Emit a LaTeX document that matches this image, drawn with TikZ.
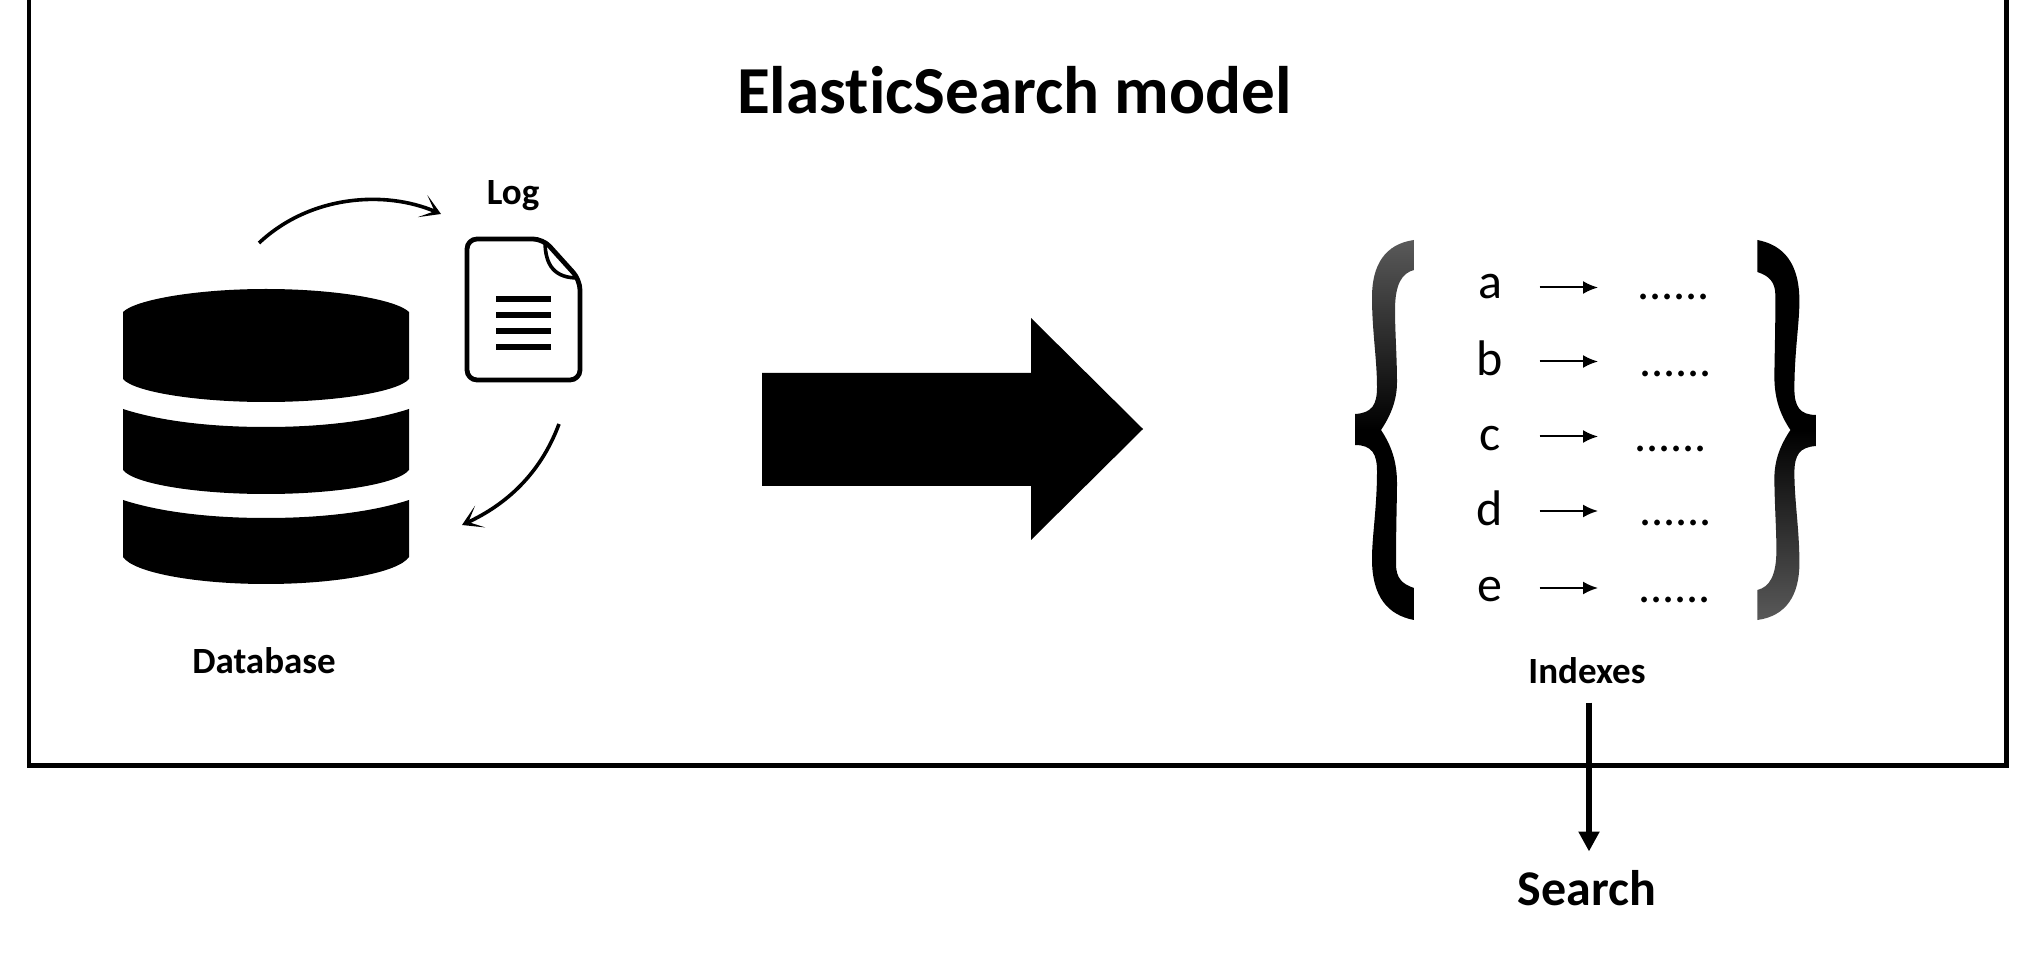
\documentclass[tikz,border=0pt]{standalone}
\usepackage{fontspec}
\setmainfont{Carlito}[Ligatures=NoCommon]
\usetikzlibrary{arrows.meta}

\begin{document}
\begin{tikzpicture}[x=0.5pt,y=-0.5pt,>=latex]
	\tikzstyle{lbl}=[anchor=base,inner sep=0pt,font=\bfseries\fontsize{18.5}{19}\selectfont];
	\tikzstyle{letter}=[anchor=base,inner sep=0pt,font=\fontsize{25}{26}\selectfont];
	\tikzstyle{dots}=[anchor=base west,inner sep=0pt,font=\fontsize{24}{26}\selectfont];
	\tikzstyle{curvearrow}=[->,line width=1.8pt,>={Stealth[length=10pt,width=12pt,inset=6.5pt]}];
	\tikzstyle{smallarrow}=[->,line width=1pt,>={Latex[length=7.5pt,width=6.5pt]}];
	\useasboundingbox (0,0) rectangle (2025,978);
	% frame, open at the top of the page
	\draw[line width=2.2pt] (29,-4) -- (29,765.5) -- (2006.5,765.5) -- (2006.5,-4);
	\node[lbl,font=\bfseries\fontsize{33.6}{34}\selectfont](title) at (1014.5,113.5){ElasticSearch model};
	% database
	\fill (123,312) .. controls (135,300) and (195,289) .. (266,289) .. controls (337,289) and (397,300) .. (409,312)
		-- (409,379) .. controls (398,392) and (335,402) .. (266,402) .. controls (197,402) and (134,392) .. (123,379) -- cycle;
	\fill (123,409) .. controls (160,421) and (210,427) .. (266,427) .. controls (322,427) and (372,421) .. (409,409)
		-- (409,470) .. controls (398,484) and (335,494) .. (266,494) .. controls (197,494) and (134,484) .. (123,470) -- cycle;
	\fill (123,500) .. controls (160,512) and (210,518) .. (266,518) .. controls (322,518) and (372,512) .. (409,500)
		-- (409,557) .. controls (398,573) and (335,584) .. (266,584) .. controls (197,584) and (134,573) .. (123,557) -- cycle;
	\node[lbl](db) at (264,673){Database};
	% log file
	\draw[line width=2.4pt,line join=round,rounded corners=5pt] (467,239) -- (543,239) -- (580,280) -- (580,380) -- (467,380) -- cycle;
	\draw[line width=1.8pt,line join=round] (545,241) .. controls (545,266) and (555,278) .. (578,278);
	\foreach \y in {299,315,331,347}{
	\draw[line width=3pt] (496,\y) -- (551,\y);
	}
	\node[lbl](log) at (513,204.5){Log};
	\coordinate (db-out) at (259,243);
	\coordinate (log-in) at (441,214);
	\coordinate (log-out) at (559,424);
	\coordinate (db-in) at (462,525);
	\draw[curvearrow] (db-out) .. controls (310,195) and (385,190) .. (log-in);
	\draw[curvearrow] (log-out) .. controls (540,475) and (505,505) .. (db-in);
	% big arrow
	\fill (762,373) -- (1031,373) -- (1031,318) -- (1143,429) -- (1031,540) -- (1031,486) -- (762,486) -- cycle;
	% braces
	\def\bracepath{(1414,240) .. controls (1385,244) and (1372,265) .. (1372,297) .. controls (1372,331) and (1377,359) .. (1377,387)
		.. controls (1377,405) and (1372,413) .. (1355,414) -- (1355,445) .. controls (1372,445) and (1377,454) .. (1377,471)
		.. controls (1377,508) and (1372,536) .. (1372,559) .. controls (1372,597) and (1388,615) .. (1414,620) -- (1414,588)
		.. controls (1402,584) and (1396,578) .. (1396,564) .. controls (1396,527) and (1397,499) .. (1397,483)
		.. controls (1397,461) and (1391,445) .. (1381,430) .. controls (1391,415) and (1397,400) .. (1397,382)
		.. controls (1397,359) and (1395,331) .. (1395,310) .. controls (1395,284) and (1402,273) .. (1414,270) -- cycle}
	\shade[top color=black!65,bottom color=black,middle color=black] \bracepath;
	\begin{scope}[shift={(3171.4,860)},x=-0.5pt,y=0.5pt]
	\shade[top color=black,bottom color=black!65,middle color=black] \bracepath;
	\end{scope}
	% index rows
	\foreach \name/\ya/\xd/\ybase/\yd in {a/287.5/1637/299/300,b/361.5/1639/376/377,c/436.5/1634/451/452,d/511/1639/526/526,e/588/1638/602/603}{
	\node[letter](k-\name) at (1490,\ybase){\name};
	\coordinate (p-\name) at (1539.5,\ya);
	\coordinate (q-\name) at (1598,\ya);
	\draw[smallarrow] (p-\name) -- (q-\name);
	\node[dots](v-\name) at (\xd,\yd){......};
	}
	\node[lbl](idx) at (1587,683){Indexes};
	\node[lbl,font=\bfseries\fontsize{25}{25}\selectfont](srch) at (1587,905){Search};
	\draw[->,line width=3.3pt,>={Stealth[length=10pt,width=10pt,inset=0pt]},shorten <=9.5pt,shorten >=9pt] ([xshift=1pt]idx.south) -- ([xshift=1pt]srch.north);
\end{tikzpicture}
\end{document}
